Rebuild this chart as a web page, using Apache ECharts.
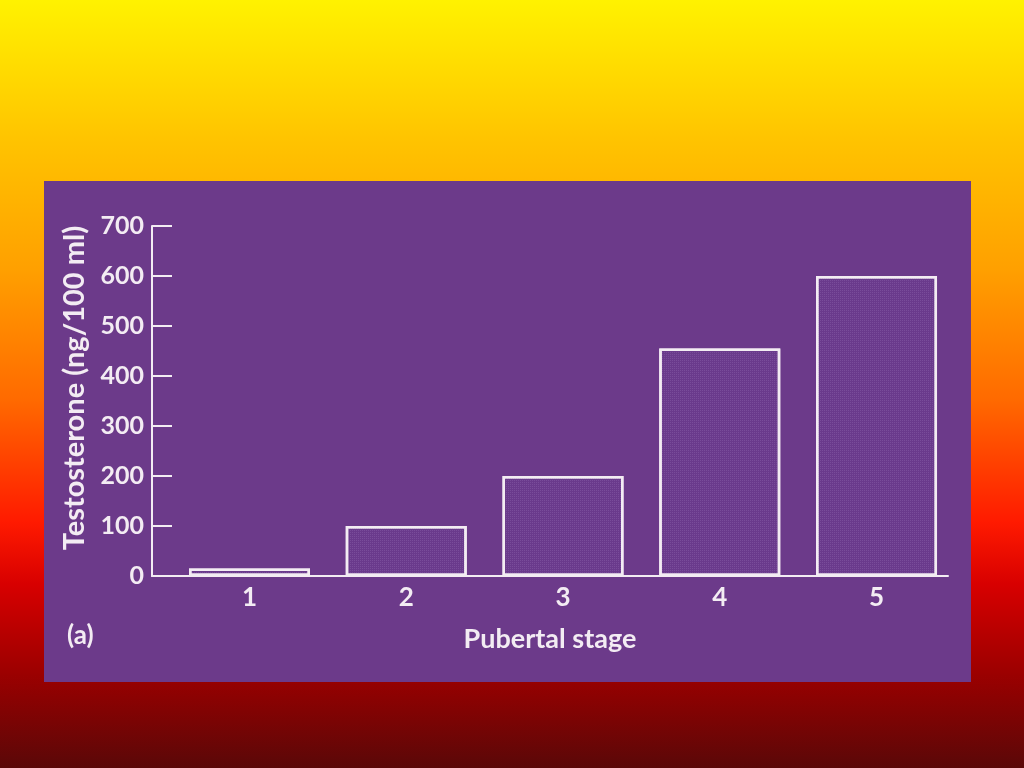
<!DOCTYPE html>
<html>
<head>
<meta charset="utf-8">
<script src="https://cdn.jsdelivr.net/npm/echarts@6/dist/echarts.min.js"></script>
<style>
html,body{margin:0;padding:0;width:1024px;height:768px;overflow:hidden;}
body{background:linear-gradient(to bottom,#fff200 0%,#ffc400 18%,#ffa000 35%,#ff6a00 52%,#ff1a00 68%,#d80000 76%,#9a0000 88%,#5a0808 100%);}
#panel{position:absolute;left:44px;top:181px;width:927px;height:501px;background:#6c3a8a;}
#chart{position:absolute;left:0;top:0;width:1024px;height:768px;}
</style>
</head>
<body>
<div id="panel"></div>
<div id="chart"></div>
<script>
const stages = [1, 2, 3, 4, 5];
const stageLabels = ['1', '2', '3', '4', '5'];
const testosterone = [15, 100, 200, 455, 600];
const yTicks = [0, 100, 200, 300, 400, 500, 600, 700];

const txt = '#f3ecf3';
const font = 'Lato';
const chart = echarts.init(document.getElementById('chart'), null, {renderer: 'canvas'});
chart.setOption({
  backgroundColor: 'transparent',
  animation: false,
  title: {
    text: '(a)', left: 62, top: 618,
    textStyle: {color: txt, fontFamily: font, fontSize: 26, fontWeight: 'bold'}
  },
  grid: {left: 152, right: 76, top: 226, bottom: 192},
  xAxis: {
    type: 'value', min: 0.378, max: 5.456,
    name: 'Pubertal stage', nameLocation: 'middle', nameGap: 50,
    nameTextStyle: {color: txt, fontFamily: font, fontSize: 27, fontWeight: 'bold'},
    axisLine: {show: true, lineStyle: {color: txt, width: 2}},
    axisTick: {show: false},
    splitLine: {show: false},
    axisLabel: {
      customValues: stages, color: txt, fontFamily: font, fontSize: 26, fontWeight: 'bold', margin: 9,
      formatter: v => stageLabels[stages.indexOf(v)] || ''
    }
  },
  yAxis: {
    type: 'value', min: 0, max: 700, interval: 100,
    name: 'Testosterone (ng/100 ml)', nameLocation: 'middle', nameGap: 60, nameRotate: 90,
    nameTextStyle: {color: txt, fontFamily: font, fontSize: 29, fontWeight: 'bold', padding: [0, 0, 0, 26]},
    axisLine: {show: true, lineStyle: {color: txt, width: 2}},
    axisTick: {show: true, inside: true, length: 20, lineStyle: {color: txt, width: 2}},
    splitLine: {show: false},
    axisLabel: {
      color: txt, fontFamily: font, fontSize: 25, fontWeight: 'bold', margin: 8,
      formatter: v => yTicks.includes(v) ? String(v) : ''
    }
  },
  series: [{
    type: 'bar',
    data: stages.map((s, i) => [s, testosterone[i]]),
    barWidth: 121,
    itemStyle: {
      color: '#6a3a8c', borderColor: txt, borderWidth: 2.5,
      decal: {symbol: 'rect', symbolSize: 1, dashArrayX: [1, 1], dashArrayY: [1, 1], color: 'rgba(140,100,170,0.45)'}
    }
  }]
});
</script>
</body>
</html>
